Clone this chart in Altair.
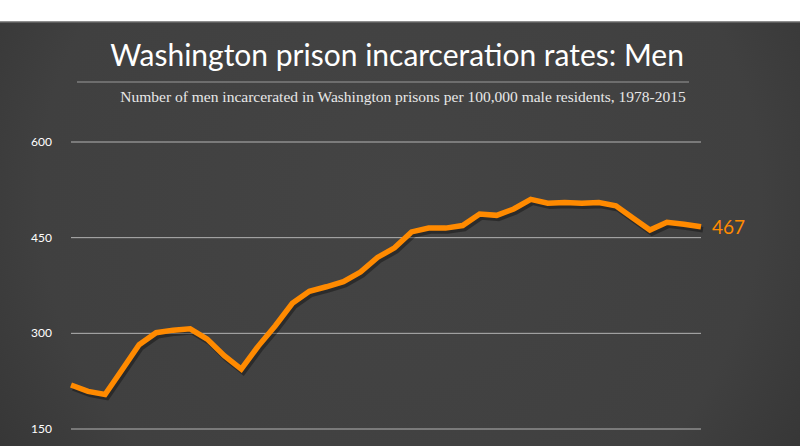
import altair as alt
import pandas as pd

years = list(range(1978, 2016))
rates = [219, 209, 204, 243, 282, 301, 305, 307, 291, 265, 244, 280, 312, 347,
         366, 373, 381, 396, 419, 434, 459, 465, 465, 469, 487, 485, 495, 510,
         504, 505, 504, 505, 500, 481, 462, 474, 471, 467]
y_ticks = [150, 300, 450, 600]

title_text = "Washington prison incarceration rates: Men"
subtitle_text = "Number of men incarcerated in Washington prisons per 100,000 male residents, 1978-2015"

df = pd.DataFrame({"year": years, "rate": rates})
last = df[df.year == years[-1]]
ticks_df = pd.DataFrame({"rate": y_ticks})

W, H = 630, 287
ORANGE = "#ff8a00"

x_scale = alt.Scale(domain=[years[0], years[-1]], nice=False, zero=False)
y_scale = alt.Scale(domain=[150, 600], nice=False, zero=False)
xs = alt.X("year:Q", scale=x_scale, axis=None)
ys = alt.Y("rate:Q", scale=y_scale, axis=None)

bg_df = pd.DataFrame({"k": [0]})
bg = alt.Chart(bg_df).mark_rect(
    fill=alt.RadialGradient(
        gradient="radial", x1=0.5, y1=0.45, r1=0.0, x2=0.5, y2=0.45, r2=0.75,
        stops=[alt.GradientStop(offset=0, color="#444444"),
               alt.GradientStop(offset=0.6, color="#404040"),
               alt.GradientStop(offset=1, color="#2c2c2c")]),
    stroke="#6a6a6a", strokeWidth=1.5,
).encode(x=alt.value(-72), x2=alt.value(730), y=alt.value(-120), y2=alt.value(310))

rule = alt.Chart(bg_df).mark_rule(color="#9a9a9a", strokeWidth=1).encode(
    x=alt.value(6), x2=alt.value(618), y=alt.value(-60))

title = alt.Chart(pd.DataFrame({"t": [title_text]})).mark_text(
    font="Lato", fontSize=30, color="white", align="center", baseline="alphabetic"
).encode(text="t:N", x=alt.value(326), y=alt.value(-76))

subtitle = alt.Chart(pd.DataFrame({"t": [subtitle_text]})).mark_text(
    font="Liberation Serif", fontSize=15.5, color="#e8e8e8", align="center", baseline="alphabetic"
).encode(text="t:N", x=alt.value(332), y=alt.value(-40))

grid = alt.Chart(ticks_df).mark_rule(color="#b4b4b4", strokeWidth=1).encode(
    y=alt.Y("rate:Q", scale=y_scale, axis=None), x=alt.value(0), x2=alt.value(W))

tick_labels = alt.Chart(ticks_df).mark_text(
    font="Lato", fontSize=12, color="white", align="right", baseline="middle"
).encode(y=alt.Y("rate:Q", scale=y_scale, axis=None), x=alt.value(-19), text="rate:Q")

base = alt.Chart(df)
shadow = base.mark_line(color="black", opacity=0.35, strokeWidth=5.5, xOffset=2, yOffset=3,
                        strokeJoin="miter").encode(x=xs, y=ys)
line = base.mark_line(color=ORANGE, strokeWidth=5.5, strokeJoin="miter").encode(x=xs, y=ys)

lab = alt.Chart(last).mark_text(
    font="Lato", fontSize=19, color=ORANGE, align="left", baseline="middle", dx=11, dy=1
).encode(x=xs, y=ys, text="rate:Q")

chart = alt.layer(bg, rule, title, subtitle, grid, tick_labels, shadow, line, lab).properties(
    width=W, height=H,
    autosize=alt.AutoSizeParams(type="none"),
    padding={"left": 71, "top": 142, "right": 99, "bottom": 17},
    background="white",
).configure_view(stroke=None)

chart.save("out.html", embed_options={"renderer": "svg", "actions": False})
